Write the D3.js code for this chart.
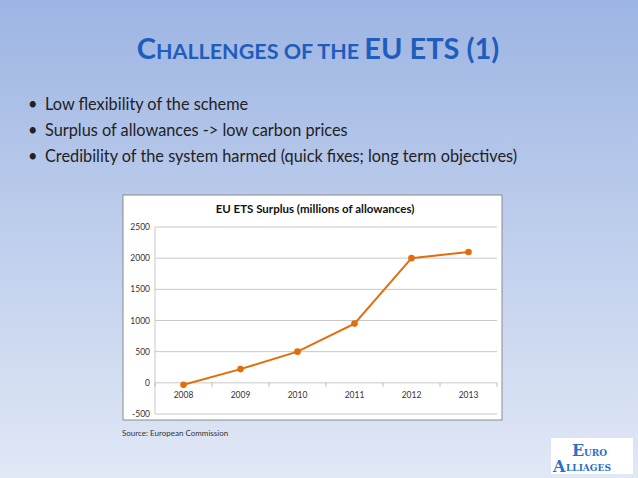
<!DOCTYPE html>
<html><head><meta charset="utf-8">
<script src="https://cdn.jsdelivr.net/npm/d3@7"></script>
<style>body{margin:0}svg{display:block}</style></head>
<body><svg id="c" width="638" height="478"></svg>
<script>
const categories = ["2008","2009","2010","2011","2012","2013"];
const values = [-30, 220, 500, 950, 2000, 2100];
const yTicks = [-500, 0, 500, 1000, 1500, 2000, 2500];
const bullets = ["Low flexibility of the scheme","Surplus of allowances -> low carbon prices","Credibility of the system harmed (quick fixes; long term objectives)"];

const svg = d3.select("#c");
const defs = svg.append("defs");
const g = defs.append("linearGradient").attr("id","bg").attr("x1",0).attr("y1",0).attr("x2",0).attr("y2",1);
g.append("stop").attr("offset","0").attr("stop-color","#9db5e3");
g.append("stop").attr("offset","1").attr("stop-color","#e1e8f6");
svg.append("rect").attr("width",638).attr("height",478).attr("fill","url(#bg)");

const t = svg.append("text").attr("x",318).attr("y",59).attr("text-anchor","middle")
  .attr("font-family","Lato, 'Open Sans', sans-serif").attr("font-weight","bold").attr("fill","#1f5dbd");
[["C",29],["HALLENGES OF THE ",21.5],["EU ETS (1)",29]].forEach(([s,f])=>t.append("tspan").attr("font-size",f).text(s));

bullets.forEach((b,i)=>{
  const y=110+i*26;
  svg.append("text").attr("x",28).attr("y",y).attr("font-size",16.3).attr("font-family","Lato, sans-serif").attr("fill","#222").text("•");
  svg.append("text").attr("x",45).attr("y",y).attr("font-size",16.3).attr("font-family","Lato, sans-serif").attr("fill","#222").text(b);
});

svg.append("rect").attr("x",123).attr("y",195).attr("width",379).attr("height",225).attr("fill","#fff").attr("stroke","#8a8a8a");
svg.append("text").attr("x",315).attr("y",213).attr("text-anchor","middle").attr("font-size",11.5).attr("font-weight","bold")
  .attr("font-family","Lato, sans-serif").attr("fill","#111").text("EU ETS Surplus (millions of allowances)");

const x = d3.scaleBand().domain(categories).range([155,497]);
const y = d3.scaleLinear().domain([-500,2500]).range([414,227]);
const ga = svg.append("g").attr("font-family","Lato, sans-serif");
yTicks.forEach(v=>{
  ga.append("line").attr("x1",155).attr("x2",497).attr("y1",y(v)).attr("y2",y(v)).attr("stroke","#c8c8c8");
  ga.append("text").attr("x",150).attr("y",y(v)+3).attr("text-anchor","end").attr("font-size",8.5).attr("fill","#333").text(v);
});
ga.append("line").attr("x1",155).attr("x2",155).attr("y1",227).attr("y2",414).attr("stroke","#c8c8c8");
categories.forEach((c,i)=>{
  ga.append("line").attr("x1",x(c)).attr("x2",x(c)).attr("y1",y(0)).attr("y2",y(0)+4).attr("stroke","#bbb");
  ga.append("text").attr("x",x(c)+x.bandwidth()/2).attr("y",y(0)+15).attr("text-anchor","middle").attr("font-size",8.5).attr("fill","#333").text(c);
});
ga.append("line").attr("x1",497).attr("x2",497).attr("y1",y(0)).attr("y2",y(0)+4).attr("stroke","#bbb");

const pts = categories.map((c,i)=>[x(c)+x.bandwidth()/2, y(values[i])]);
svg.append("path").attr("d",d3.line()(pts)).attr("fill","none").attr("stroke","#e46c0a").attr("stroke-width",2);
svg.selectAll("circle.p").data(pts).join("circle").attr("cx",d=>d[0]).attr("cy",d=>d[1]).attr("r",3.3).attr("fill","#e46c0a");

svg.append("text").attr("x",122).attr("y",436).attr("font-size",8).attr("font-family","Lato, sans-serif").attr("fill","#333").text("Source: European Commission");

svg.append("rect").attr("x",551).attr("y",438).attr("width",82).attr("height",36).attr("fill","#fff");
const lg = svg.append("g").attr("font-family","'DejaVu Serif', serif").attr("font-weight","bold").attr("fill","#2a6fc9");
lg.append("text").attr("x",572).attr("y",456).attr("font-size",16).text("E");
lg.append("text").attr("x",584).attr("y",456).attr("font-size",9).text("URO");
lg.append("text").attr("x",553).attr("y",472).attr("font-size",16).text("A");
lg.append("text").attr("x",566).attr("y",471).attr("font-size",9).text("LLIAGES");
</script></body></html>
